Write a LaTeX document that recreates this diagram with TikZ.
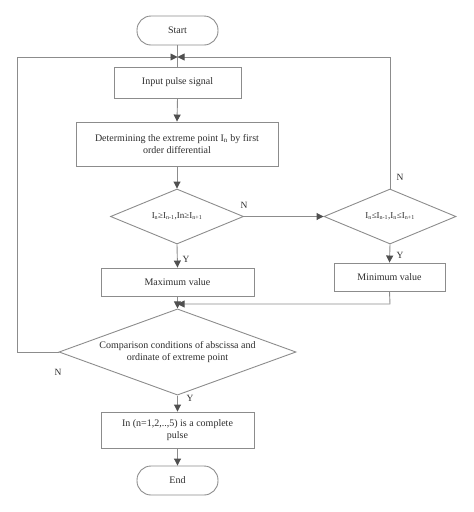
\documentclass[tikz,border=0pt]{standalone}
\usepackage{fontspec}
\setmainfont{Liberation Serif}
\usetikzlibrary{shapes.geometric,arrows.meta}
\definecolor{linegray}{RGB}{140,140,140}
\definecolor{headgray}{RGB}{80,80,80}
\definecolor{txtgray}{RGB}{45,45,45}
\tikzset{
  base/.style={draw=linegray, line width=0.9pt, text=txtgray, font=\fontsize{10}{12}\selectfont, align=center, inner sep=1pt},
  procbox/.style={base, rectangle},
  termbox/.style={base, rectangle, rounded corners=14pt, minimum width=81pt, minimum height=29pt},
  decbox/.style={base, diamond, aspect=2.4, inner sep=0pt},
  conn/.style={draw=linegray, line width=0.9pt},
  arr/.style={conn, -{Triangle[length=7pt,width=7pt,color=headgray]}},
  lbl/.style={text=txtgray, font=\fontsize{9.5}{11}\selectfont, inner sep=0pt}
}
\begin{document}
\begin{tikzpicture}[x=1pt,y=-1pt]
\useasboundingbox (0,0) rectangle (474,512);
\node[termbox] (start) at (177.5,30.5) {Start};
\node[procbox, minimum width=127pt, minimum height=31pt] (input) at (177.5,82.5) {Input pulse signal};
\node[procbox, minimum width=202pt, minimum height=44pt] (det) at (177,144) {Determining the extreme point I\textsubscript{n} by first\\order differential};
\node[decbox, minimum width=133pt, minimum height=55pt, font=\fontsize{9}{11}\selectfont] (d1) at (177,216.5) {I\textsubscript{n}≥I\textsubscript{n-1},In≥I\textsubscript{n+1}};
\node[decbox, minimum width=132pt, minimum height=55pt, font=\fontsize{9}{11}\selectfont] (d2) at (390,216.5) {I\textsubscript{n}≤I\textsubscript{n-1},I\textsubscript{n}≤I\textsubscript{n+1}};
\node[procbox, minimum width=153pt, minimum height=28pt] (max) at (177.5,282) {Maximum value};
\node[procbox, minimum width=111pt, minimum height=28pt] (min) at (389.5,277) {Minimum value};
\node[decbox, minimum width=237pt, minimum height=66pt] (d3) at (177.5,352) {Comparison conditions of abscissa and\\ordinate of extreme point};
\node[procbox, minimum width=153pt, minimum height=36pt] (comp) at (177.5,430) {In (n=1,2,..,5) is a complete\\pulse};
\node[termbox] (end) at (177.5,480.5) {End};

\coordinate (J) at (177.5,57);
\coordinate (L1) at (17,352);
\coordinate (L2) at (17,57);
\coordinate (R1) at (390,57);
\coordinate (M1) at (390,304);
\coordinate (M2) at (177.5,304);

\draw[conn] (start.south) -- (input.north);
\draw[arr] (d3.west) -- (L1) -- (L2) -- (J);
\draw[arr] (d2.north) -- (R1) -- (J);
\draw[arr] (input.south) -- (det.north);
\draw[arr] (det.south) -- (d1.north);
\draw[arr] (d1.east) -- (d2.west);
\draw[arr] (d1.south) -- (max.north);
\draw[arr] (d2.south) -- (min.north);
\draw[arr] (min.south) -- (M1) -- (M2);
\draw[arr] (max.south) -- (d3.north);
\draw[arr] (d3.south) -- (comp.north);
\draw[arr] (comp.south) -- (end.north);

\node[lbl] (n1) at (244,205) {N};
\node[lbl] (n2) at (400,177) {N};
\node[lbl] (y1) at (186,259) {Y};
\node[lbl] (y2) at (400,255) {Y};
\node[lbl] (n3) at (58,372) {N};
\node[lbl] (y3) at (190,398) {Y};
\end{tikzpicture}
\end{document}
